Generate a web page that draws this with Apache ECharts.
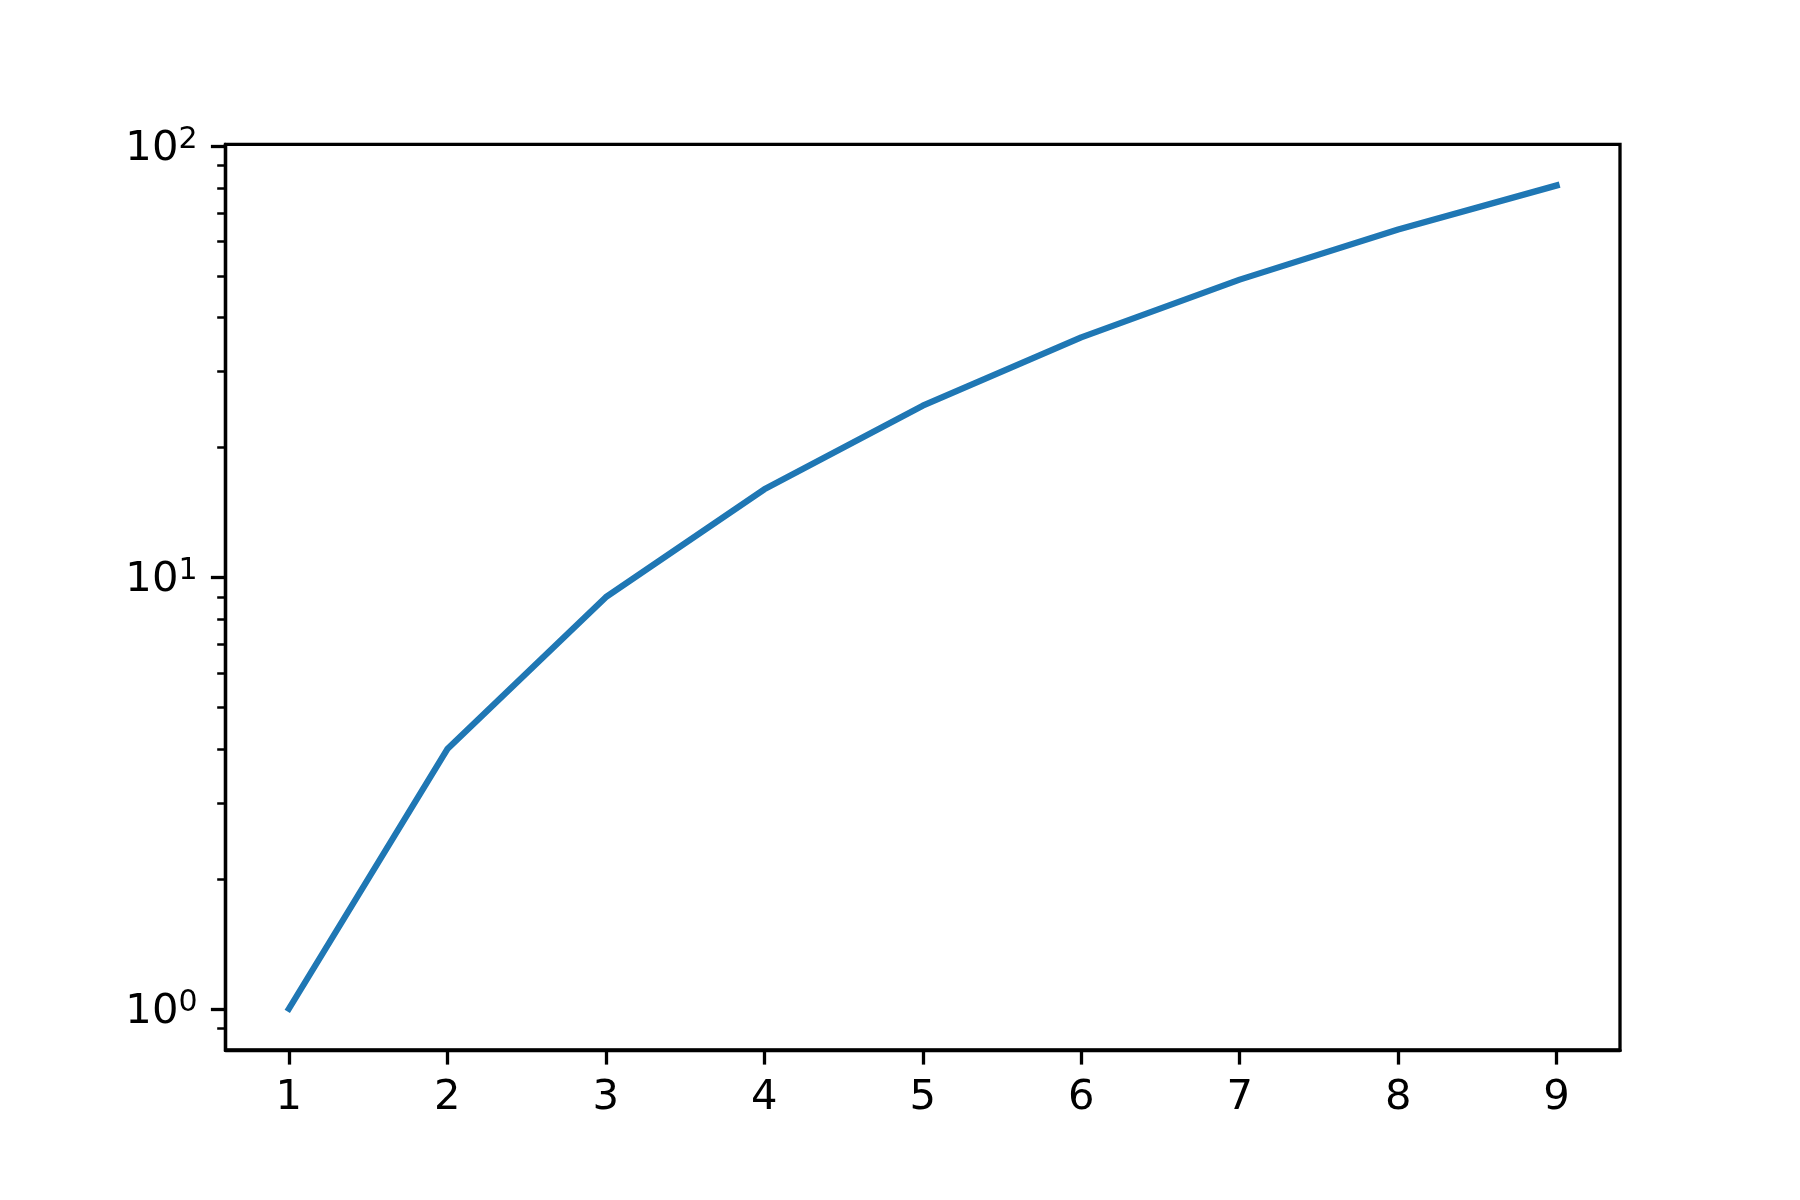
<!DOCTYPE html>
<html>
<head>
<meta charset="utf-8">
<script src="https://cdn.jsdelivr.net/npm/echarts@6/dist/echarts.min.js"></script>
<style>
    html, body { margin: 0; padding: 0; background: #fff; }
    #chart { width: 1800px; height: 1200px; }
</style>
</head>
<body>
<div id="chart"></div>
<script>
// data: y = x squared, on a log y axis
var xValues = [1, 2, 3, 4, 5, 6, 7, 8, 9];
var yValues = [1, 4, 9, 16, 25, 36, 49, 64, 81];
var xTicks = [1, 2, 3, 4, 5, 6, 7, 8, 9];
var yMajorTicks = [1, 10, 100];
var yMinorTicks = [0.9, 2, 3, 4, 5, 6, 7, 8, 9, 20, 30, 40, 50, 60, 70, 80, 90];
var supDigits = { 1: '0', 10: '1', 100: '2' };

var chart = echarts.init(document.getElementById('chart'));
var points = [];
for (var i = 0; i < xValues.length; i++) {
    points.push([xValues[i], yValues[i]]);
}
var font = 'DejaVu Sans';

chart.setOption({
    animation: false,
    backgroundColor: '#fff',
    grid: {
        left: 225.5,
        right: 180,
        top: 144.3,
        bottom: 150,
        show: true,
        borderColor: '#000',
        borderWidth: 3.3,
        backgroundColor: 'transparent'
    },
    xAxis: {
        type: 'value',
        min: 0.6,
        max: 9.4,
        splitLine: { show: false },
        axisLine: { show: true, lineStyle: { color: '#000', width: 3.3 } },
        axisTick: {
            show: true,
            customValues: xTicks,
            length: 14.6,
            lineStyle: { color: '#000', width: 3.3 }
        },
        axisLabel: {
            customValues: xTicks,
            margin: 27,
            color: '#000',
            fontSize: 41.7,
            fontFamily: font
        }
    },
    yAxis: [{
        type: 'log',
        logBase: 10,
        min: 0.8027,
        max: 100.9,
        splitLine: { show: false },
        axisLine: { show: true, lineStyle: { color: '#000', width: 3.3 } },
        axisTick: {
            show: true,
            customValues: yMajorTicks,
            length: 14.6,
            lineStyle: { color: '#000', width: 3.3 }
        },
        axisLabel: {
            customValues: yMajorTicks,
            margin: 28,
            color: '#000',
            fontFamily: font,
            formatter: function (v) {
                return '{base|10}{sup|' + supDigits[Math.round(v)] + '}';
            },
            rich: {
                base: { fontSize: 41.7, fontFamily: font, color: '#000', verticalAlign: 'bottom', padding: [6, 0, 0, 0] },
                sup: { fontSize: 30, fontFamily: font, color: '#000', verticalAlign: 'bottom', padding: [0, 0, 15, 0] }
            }
        }
    }, {
        // minor ticks only
        type: 'log',
        logBase: 10,
        min: 0.8027,
        max: 100.9,
        position: 'left',
        splitLine: { show: false },
        axisLine: { show: false },
        axisTick: {
            show: true,
            customValues: yMinorTicks,
            length: 8.3,
            lineStyle: { color: '#000', width: 2.5 }
        },
        axisLabel: { show: false }
    }],
    series: [{
        type: 'line',
        data: points,
        showSymbol: false,
        symbol: 'none',
        lineStyle: { color: '#1f77b4', width: 6.25, cap: 'square', join: 'round' }
    }]
});
</script>
</body>
</html>
